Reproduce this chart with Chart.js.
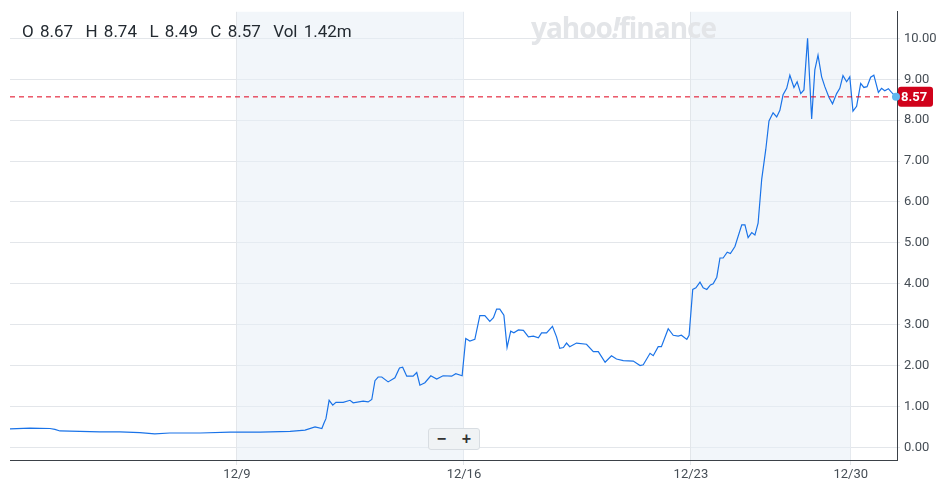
<!DOCTYPE html>
<html><head><meta charset="utf-8">
<script src="https://cdn.jsdelivr.net/npm/chart.js@4"></script>
<style>body{margin:0;background:#fff}#w{position:relative;width:943px;height:486px}
#hdr{position:absolute;left:22px;top:21px;font:17px Roboto,"Open Sans",sans-serif;color:#232a31;word-spacing:2px}
#wm{position:absolute;left:531px;top:8px;font:bold 28px "Open Sans",sans-serif;color:#e3e5e8;letter-spacing:-1px}
#zm{position:absolute;left:428px;top:428px;width:50px;height:20px;background:#f0f3f5;border:1px solid #d8dde2;border-radius:3px;font:bold 16px sans-serif;color:#333;display:flex;justify-content:space-around;align-items:center}
</style></head><body><div id="w"><canvas id="c" width="943" height="486"></canvas>
<div id="hdr">O 8.67&nbsp; H 8.74&nbsp; L 8.49&nbsp; C 8.57&nbsp; Vol 1.42m</div>
<div id="wm">yahoo<span style="font-style:italic">!</span>finance</div>
<div id="zm"><span>−</span><span>+</span></div></div>
<script>
const days=[0,0.44,0.88,0.99,1.10,1.54,1.98,2.42,2.86,3.19,3.52,4.19,4.85,5.51,6.17,6.50,6.72,6.87,6.92,6.96,7.03,7.11,7.18,7.34,7.49,7.56,7.78,7.89,7.97,8.04,8.11,8.19,8.33,8.48,8.58,8.65,8.74,8.88,8.96,9.03,9.14,9.27,9.40,9.54,9.73,9.82,9.96,10.04,10.13,10.24,10.35,10.46,10.57,10.65,10.72,10.79,10.88,10.95,11.03,11.10,11.20,11.31,11.42,11.53,11.64,11.71,11.82,11.95,12.04,12.11,12.19,12.26,12.33,12.48,12.70,12.85,12.96,13.11,13.25,13.36,13.51,13.73,13.88,13.95,14.10,14.17,14.28,14.35,14.50,14.61,14.72,14.79,14.91,14.96,15.04,15.11,15.20,15.27,15.35,15.43,15.49,15.57,15.64,15.71,15.80,15.87,15.97,16.12,16.19,16.26,16.34,16.41,16.48,16.56,16.65,16.72,16.81,16.89,16.96,17.03,17.11,17.18,17.27,17.34,17.42,17.49,17.57,17.66,17.73,17.80,17.88,17.95,18.04,18.12,18.21,18.28,18.35,18.43,18.50,18.57,18.65,18.74,18.81,18.88,18.96,19.03,19.13,19.20,19.27,19.35,19.42,19.52];
const prices=[0.45,0.47,0.46,0.44,0.40,0.39,0.38,0.38,0.36,0.33,0.35,0.35,0.37,0.37,0.39,0.42,0.50,0.46,0.60,0.70,1.15,1.03,1.10,1.10,1.15,1.09,1.13,1.11,1.17,1.63,1.72,1.72,1.60,1.70,1.94,1.96,1.74,1.74,1.83,1.52,1.58,1.75,1.67,1.75,1.74,1.80,1.75,2.66,2.60,2.64,3.22,3.22,3.08,3.17,3.38,3.38,3.23,2.44,2.84,2.80,2.87,2.86,2.70,2.72,2.68,2.80,2.80,2.96,2.70,2.42,2.44,2.55,2.46,2.55,2.52,2.34,2.34,2.08,2.24,2.16,2.12,2.11,2.00,2.02,2.30,2.24,2.46,2.46,2.90,2.74,2.72,2.74,2.64,2.74,3.86,3.90,4.04,3.90,3.86,3.97,4.00,4.16,4.63,4.63,4.77,4.74,4.91,5.44,5.44,5.13,5.25,5.19,5.48,6.56,7.29,7.98,8.18,8.08,8.24,8.62,8.78,9.10,8.80,8.94,8.65,8.74,10.00,8.03,9.23,9.59,9.06,8.82,8.56,8.40,8.65,8.78,9.09,8.94,9.06,8.22,8.34,8.90,8.80,8.82,9.05,9.10,8.68,8.78,8.72,8.77,8.68,8.57];
const tickDays=[5,10,15,18.52];
const tickLabels=['12/9','12/16','12/23','12/30'];
const yTicks=[0,1,2,3,4,5,6,7,8,9,10];
const lastClose=8.57;
const bands=[[5,10],[15,18.52]];
const F='Roboto,"Open Sans",sans-serif';
const bg={id:'bg',beforeDatasetsDraw(ch){const{ctx,chartArea:a,scales:{x}}=ch;ctx.save();ctx.fillStyle='rgba(232,238,245,0.55)';bands.forEach(b=>{const l=x.getPixelForValue(b[0]),r=x.getPixelForValue(b[1]);ctx.fillRect(l,a.top,r-l,a.bottom-a.top);});ctx.restore();},
afterDatasetsDraw(ch){const{ctx,chartArea:a,scales:{y}}=ch;const py=y.getPixelForValue(lastClose);ctx.save();ctx.strokeStyle='#e0001b';ctx.setLineDash([5,4]);ctx.lineWidth=1;ctx.beginPath();ctx.moveTo(a.left,py);ctx.lineTo(a.right,py);ctx.stroke();ctx.setLineDash([]);
ctx.fillStyle='#d0021b';ctx.beginPath();ctx.roundRect(a.right+1,py-10,35,20,3);ctx.fill();ctx.fillStyle='#fff';ctx.font='bold 13px '+F;ctx.textBaseline='middle';ctx.fillText(lastClose.toFixed(2),a.right+4,py+1);
ctx.fillStyle='#60b8f0';ctx.beginPath();ctx.arc(a.right-1,py,4,0,Math.PI*2);ctx.fill();ctx.restore();}};
new Chart(document.getElementById('c'),{type:'line',data:{datasets:[{data:days.map((d,i)=>({x:d,y:prices[i]})),borderColor:'#1a73e8',borderWidth:1.2,pointRadius:0,tension:0}]},
options:{responsive:false,animation:false,layout:{padding:{left:10,top:7,right:0,bottom:0}},plugins:{legend:{display:false},tooltip:{enabled:false}},
scales:{x:{type:'linear',min:0,max:19.54,afterFit(s){s.height=26},afterBuildTicks(s){s.ticks=tickDays.map(v=>({value:v}))},ticks:{callback:(v,i)=>tickLabels[i],color:'#464e56',font:{family:F,size:13},maxRotation:0,padding:2},grid:{color:'#e3e6ea',drawTicks:true,tickLength:5},border:{color:'#3b4148'}},
y:{position:'right',min:-0.31,max:10.65,afterFit(s){s.width=46},afterBuildTicks(s){s.ticks=yTicks.map(v=>({value:v}))},ticks:{callback:v=>v.toFixed(2),color:'#464e56',font:{family:F,size:13},padding:4},grid:{color:'#e3e6ea',tickLength:3},border:{color:'#3b4148'}}}},plugins:[bg]});
</script></body></html>
